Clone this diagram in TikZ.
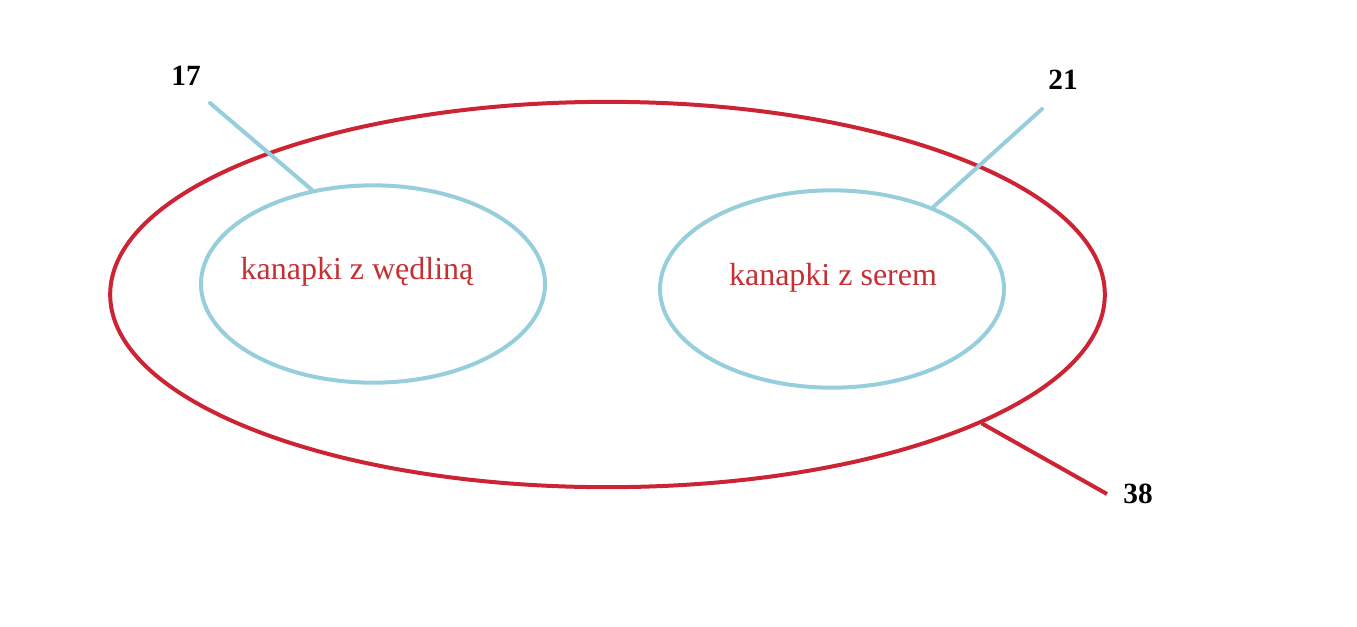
\documentclass[tikz,border=0pt]{standalone}
\usepackage{fontspec}
\setmainfont{Liberation Serif}
\usetikzlibrary{shapes.geometric}
\definecolor{setred}{RGB}{204,36,52}
\definecolor{textred}{RGB}{196,48,52}
\definecolor{setblue}{RGB}{150,206,220}
\begin{document}
\begin{tikzpicture}[x=0.75pt,y=-0.75pt]
\tikzstyle{whole}=[ellipse,line width=3pt,draw=setred,inner sep=0pt,minimum width=746pt,minimum height=289pt]
\tikzstyle{part}=[ellipse,line width=3pt,draw=setblue,inner sep=0pt,minimum width=258pt,minimum height=148pt]
\tikzstyle{setlabel}=[text=textred,font=\fontsize{24}{28}\selectfont]
\tikzstyle{setsize}=[font=\fontsize{22}{26}\selectfont\bfseries]
\useasboundingbox (0,0) rectangle (1357,626);

\node[whole] (all) at (607.5,294.5) {};
\node[part] (wed) at (373,284) {};
\node[part] (ser) at (832,289) {};

\node[setlabel] (twed) at (357,272) {kanapki z wędliną};
\node[setlabel] (tser) at (833,278) {kanapki z serem};

\node[setsize] (n17) at (186,76) {17};
\node[setsize] (n21) at (1063,80) {21};
\node[setsize] (n38) at (1138,494) {38};

\coordinate (c17) at (210,103);
\coordinate (c21) at (1042,109);
\coordinate (c38) at (1107,494);

\draw[setblue,line width=3pt,line cap=round] (c17) to (wed.123);
\draw[setblue,line width=3pt,line cap=round] (c21) to (ser.39);
\draw[setred,line width=3pt] (all.-19) to (c38);

\end{tikzpicture}
\end{document}
